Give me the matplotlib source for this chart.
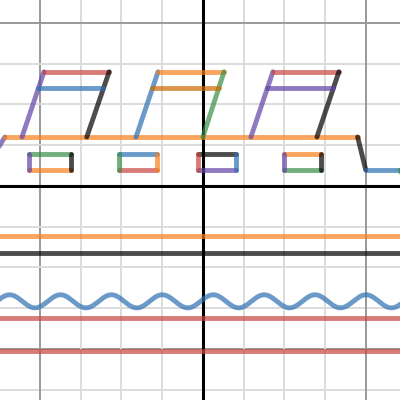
import numpy as np
import matplotlib.pyplot as plt

RED, BLUE, GREEN, PURPLE, ORANGE, BLACK, DORANGE = '#c74440', '#2d70b3', '#388c46', '#6042a6', '#fa7e19', '#000000', '#c96a00'

# segments: (x0, y0, x1, y1, colour)
segments = [
    (-5.2, 0.65, -4.86, 1.2, PURPLE),
    (-4.86, 1.2, 3.8, 1.2, ORANGE),
    (3.8, 1.2, 4.0, 0.39, BLACK),
    (4.0, 0.39, 4.85, 0.39, BLUE),
    (4.85, 0.39, 4.95, 0.0, GREEN),
    # small rectangles
    (-4.27, 0.79, -3.24, 0.79, GREEN), (-4.27, 0.39, -3.24, 0.39, ORANGE),
    (-4.27, 0.79, -4.27, 0.39, PURPLE), (-3.24, 0.79, -3.24, 0.39, BLACK),
    (-2.06, 0.79, -1.13, 0.79, BLUE), (-2.06, 0.39, -1.13, 0.39, RED),
    (-2.06, 0.79, -2.06, 0.39, GREEN), (-1.13, 0.79, -1.13, 0.39, ORANGE),
    (-0.12, 0.79, 0.81, 0.79, BLACK), (-0.12, 0.39, 0.81, 0.39, PURPLE),
    (-0.12, 0.79, -0.12, 0.39, RED), (0.81, 0.79, 0.81, 0.39, BLUE),
    (2.0, 0.79, 2.9, 0.79, ORANGE), (2.0, 0.39, 2.9, 0.39, GREEN),
    (2.0, 0.79, 2.0, 0.39, PURPLE), (2.9, 0.79, 2.9, 0.39, BLACK),
    # parallelogram 1
    (-4.44, 1.2, -3.9, 2.8, PURPLE), (-3.9, 2.8, -2.3, 2.8, RED),
    (-2.3, 2.8, -2.85, 1.2, BLACK), (-4.05, 2.4, -2.45, 2.4, BLUE),
    # parallelogram 2
    (-1.64, 1.2, -1.1, 2.8, BLUE), (-1.1, 2.8, 0.52, 2.8, ORANGE),
    (0.52, 2.8, 0.0, 1.2, GREEN), (-1.25, 2.4, 0.4, 2.4, DORANGE),
    # parallelogram 3
    (1.18, 1.2, 1.72, 2.8, PURPLE), (1.72, 2.8, 3.34, 2.8, RED),
    (3.34, 2.8, 2.8, 1.2, BLACK), (1.57, 2.4, 3.19, 2.4, PURPLE),
]
hlines = [(-1.23, ORANGE), (-1.64, BLACK), (-3.24, RED), (-4.05, RED)]
wave_center, wave_amp, wave_period, wave_trough = -2.83, 0.16, 1.25, -4.12

fig = plt.figure(figsize=(4, 4), dpi=100)
ax = fig.add_axes([0, 0, 1, 1])
ax.set_xlim(-4.98, 4.84)
ax.set_ylim(-5.25, 4.56)
for v in np.arange(-5, 6):
    major = v % 4 == 0
    ax.axvline(v, color='#999999' if major else '#dcdcdc', lw=1.4, zorder=0)
    ax.axhline(v, color='#999999' if major else '#dcdcdc', lw=1.4, zorder=0)
ax.axvline(0, color='black', lw=2.2, zorder=1)
ax.axhline(0, color='black', lw=2.2, zorder=1)

for x0, y0, x1, y1, c in segments:
    ax.plot([x0, x1], [y0, y1], color=c, lw=3.5, alpha=0.7, solid_capstyle='round', zorder=3)
for y, c in hlines:
    ax.axhline(y, color=c, lw=3.5, alpha=0.7, zorder=3)
xs = np.linspace(-5, 5, 800)
ax.plot(xs, wave_center - wave_amp * np.cos(2 * np.pi * (xs - wave_trough) / wave_period),
        color=BLUE, lw=3.5, alpha=0.7, zorder=3)
ax.axis('off')
fig.savefig('out.png', dpi=100)
